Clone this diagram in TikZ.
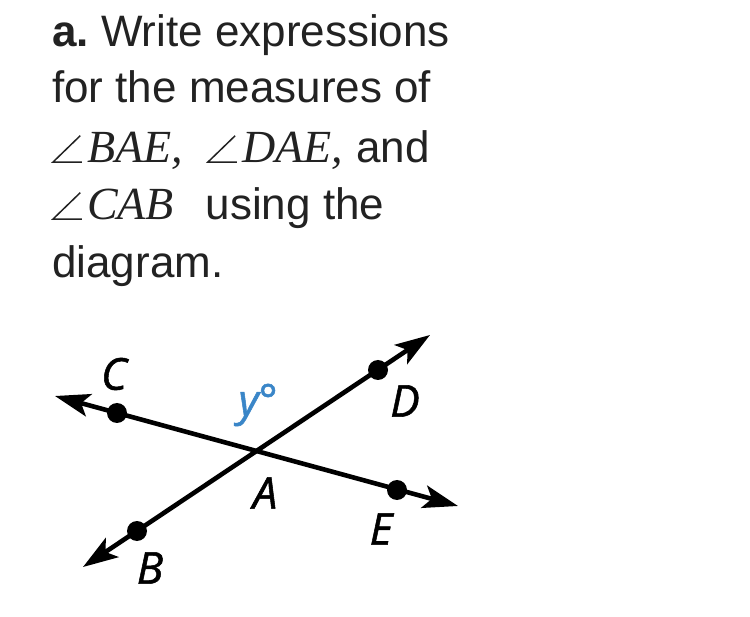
\documentclass[tikz,border=0pt]{standalone}
\usepackage{fontspec}
\setmainfont{Liberation Sans}
\newfontfamily\tms{Liberation Serif}
\newfontfamily\lblfont[FakeBold=1.2]{Open Sans}
\usetikzlibrary{arrows.meta}
\definecolor{txt}{HTML}{222222}
\definecolor{yblue}{HTML}{3A86C8}
\tikzset{
  txtline/.style={anchor=base west, inner sep=0pt, text=txt, font=\fontsize{44}{52}\selectfont},
  ptdot/.style={circle, fill=black, inner sep=0pt, minimum size=20pt},
  lbl/.style={inner sep=0pt, font=\lblfont\itshape\fontsize{44}{50}\selectfont},
  geoline/.style={line width=4.6pt, {Stealth[length=35pt,width=23pt,inset=8pt]}-{Stealth[length=35pt,width=23pt,inset=8pt]}}
}
\newcommand{\tmsi}[1]{{\tms\itshape\fontsize{46}{52}\selectfont #1}}
\newcommand{\angsym}{\tikz[baseline=0pt, x=1em, y=1em]\draw[txt, line width=1.5pt, line join=miter] (0.64,0.62) -- (0.02,0.02) -- (0.68,0.02);\hspace{0.1em}}
\frenchspacing
\begin{document}
\begin{tikzpicture}[x=1pt,y=-1pt]
\useasboundingbox[fill=white] (0,0) rectangle (750,617);
% text
\node[txtline] (l1) at (52,47) {\textbf{a.} Write expressions};
\node[txtline] (l2) at (52,103) {for the measures of};
\node[txtline] (l3) at (52,163) {\angsym\tmsi{BAE,}\hspace{0.55em}\angsym\tmsi{DAE,}\hspace{0.3em}and};
\node[txtline] (l4) at (52,220) {\angsym\tmsi{CAB}\hspace{0.72em}using the};
\node[txtline] (l5) at (52,278) {diagram.};
% geometry
\coordinate (tC) at (55,396);
\coordinate (tE) at (458,506);
\coordinate (tB) at (83,567);
\coordinate (tD) at (430,335);
\draw[geoline] (tC) -- (tE);
\draw[geoline] (tB) -- (tD);
\node[ptdot] (C) at (117,413) {};
\node[ptdot] (E) at (397,490) {};
\node[ptdot] (D) at (378,370) {};
\node[ptdot] (B) at (137,531) {};
\coordinate (A) at (257,451);
% labels
\node[lbl] (Cl) at (114,374) {C};
\node[lbl] (Dl) at (405,401) {D};
\node[lbl] (Al) at (265,493) {A};
\node[lbl] (El) at (381,529) {E};
\node[lbl] (Bl) at (150,568) {B};
\node[lbl, text=yblue] (y) at (258,405) {y°};
\end{tikzpicture}
\end{document}
